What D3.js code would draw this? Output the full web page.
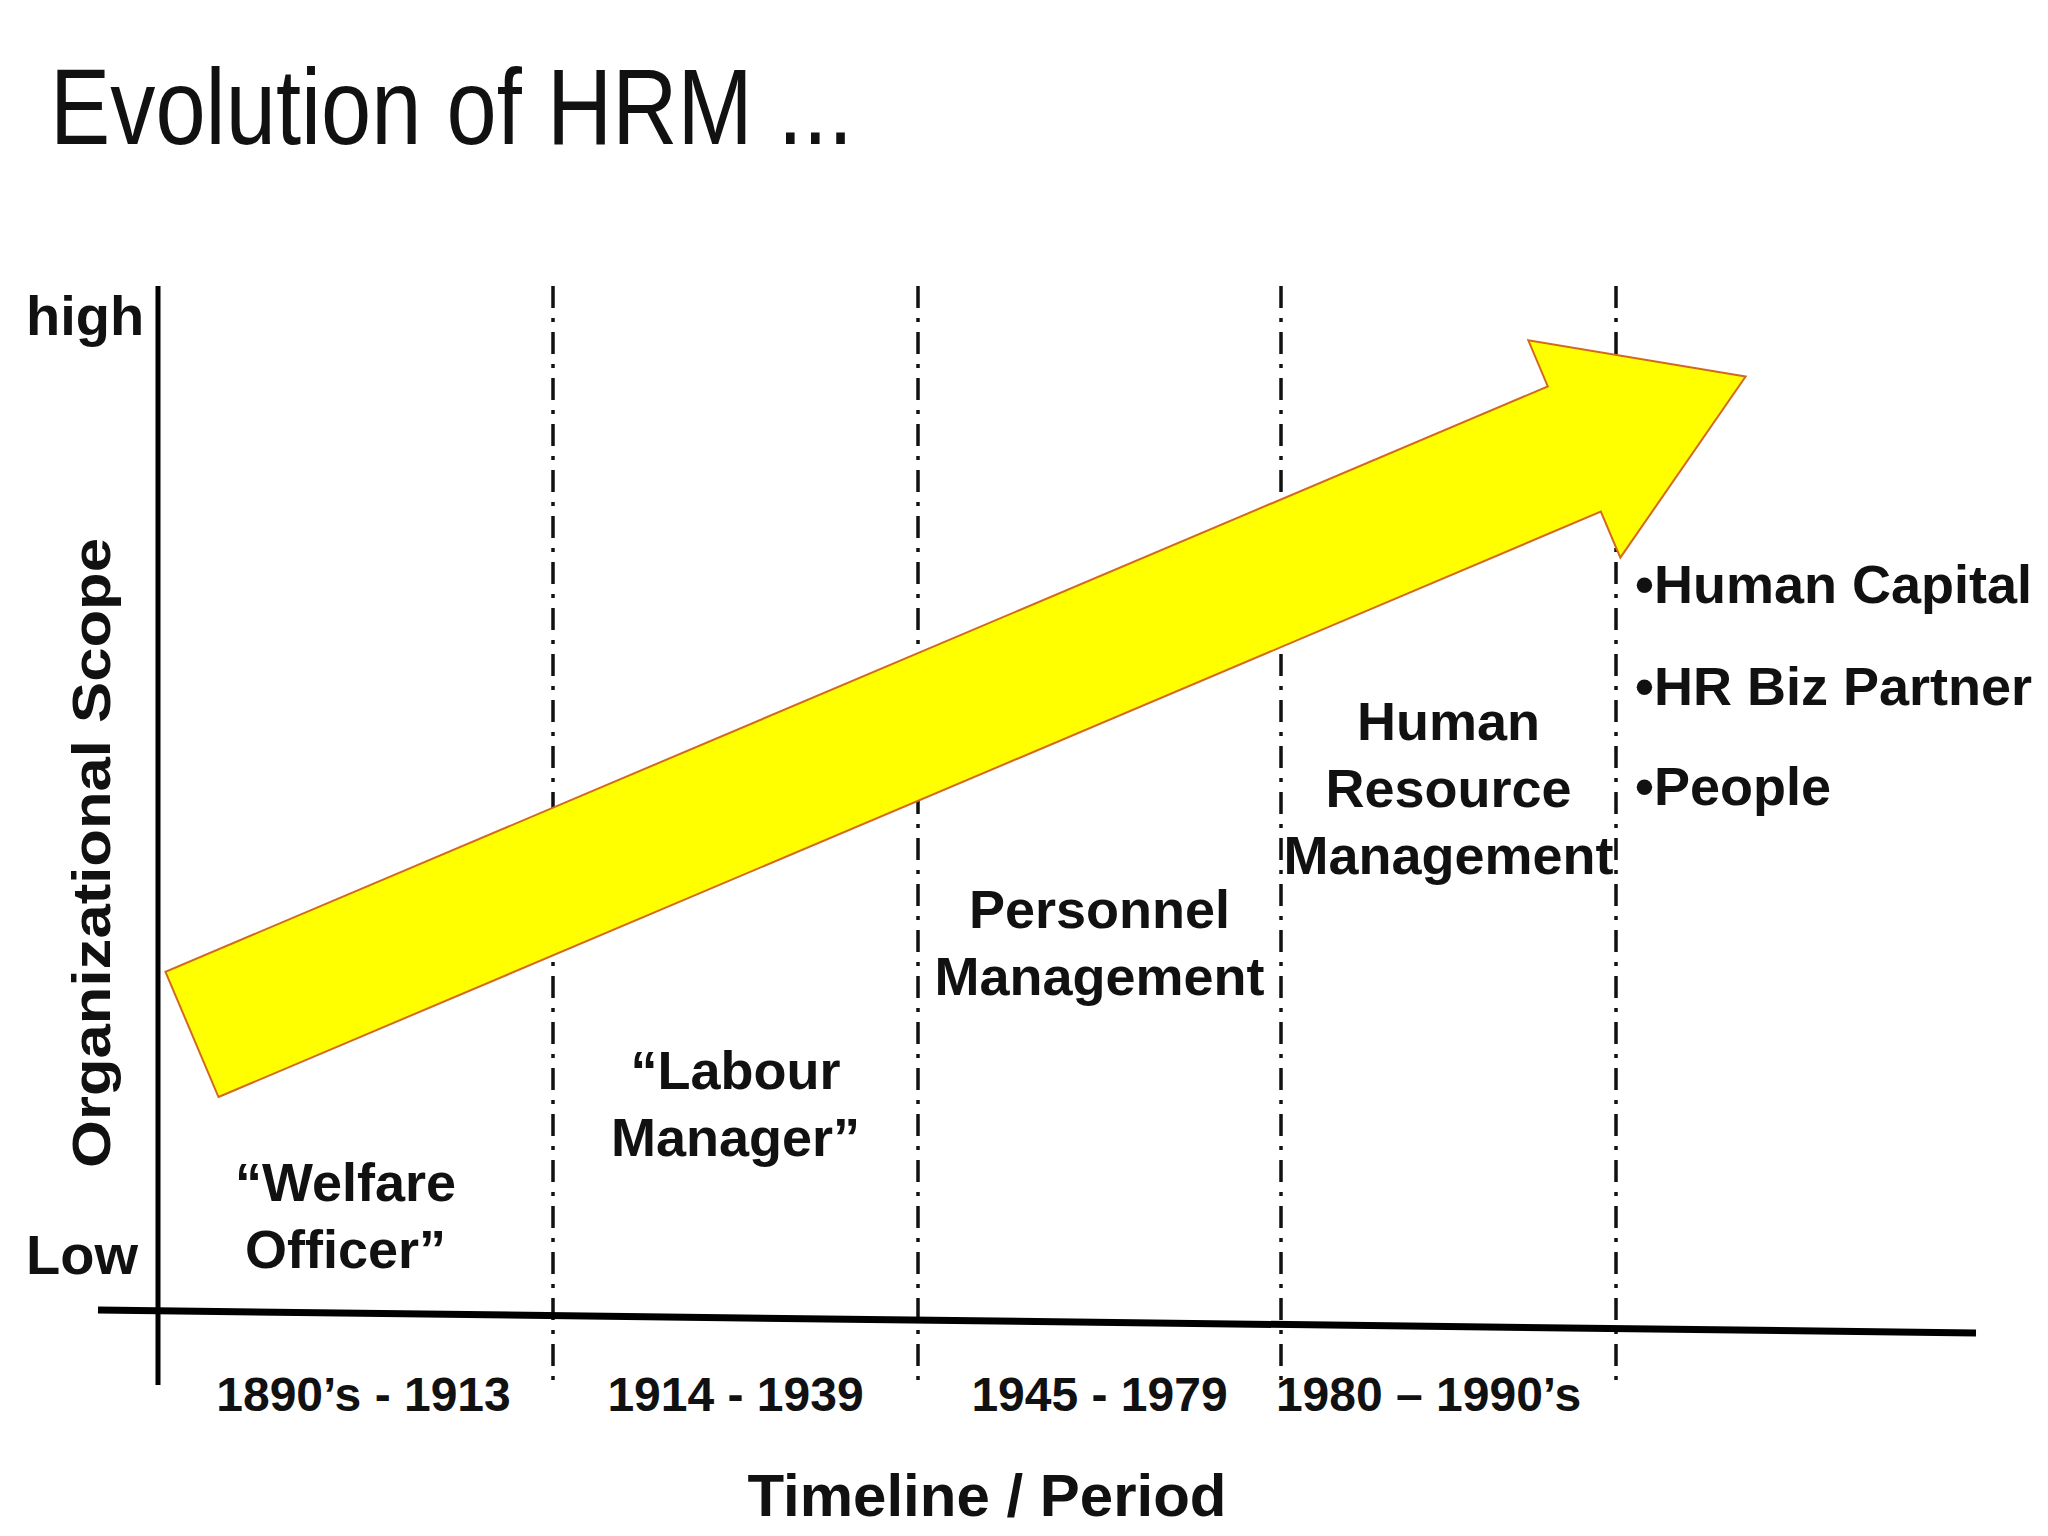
<!DOCTYPE html>
<html>
<head>
<meta charset="utf-8">
<script src="https://cdn.jsdelivr.net/npm/d3@7"></script>
<style>
  html, body { margin: 0; padding: 0; background: #fff; }
  svg text { font-family: "Liberation Sans Narrow", "Arial Narrow", "Liberation Sans", sans-serif; fill: #111; }
</style>
</head>
<body>
<svg id="chart" width="2048" height="1536"></svg>
<script>
// eras between the dash-dot dividers (x in "era index" units)
var eraLabels = [
  ['\u201cWelfare', 'Officer\u201d'],
  ['\u201cLabour', 'Manager\u201d'],
  ['Personnel', 'Management'],
  ['Human', 'Resource', 'Management']
];
// scope level (0 = low, 1 = high) of the top line of each era label
var eraScope = [0.117, 0.226, 0.384, 0.569];
var periods = ['1890\u2019s - 1913', '1914 - 1939', '1945 - 1979', '1980 \u2013 1990\u2019s'];
var dividers = [1, 2, 3, 4];
var futureItems = ['\u2022Human Capital', '\u2022HR Biz Partner', '\u2022People'];
var futureScope = [0.703, 0.603, 0.505];
// arrow: from (era, scope) to (era, scope)
var arrowFrom = [0.086, 0.28];
var arrowTo = [4.36, 0.925];

var svg = d3.select('#chart');

var x = d3.scaleLinear().domain([0, 1, 2, 3, 4, 5]).range([158, 553, 918, 1281, 1616, 1976]);
var y = d3.scaleLinear().domain([0, 1]).range([1320, 300]);

// title
svg.append('text')
  .attr('x', 50).attr('y', 144)
  .attr('textLength', 803).attr('lengthAdjust', 'spacingAndGlyphs')
  .style('font-size', '108px')
  .text('Evolution of HRM ...');

// dividers
svg.selectAll('line.divider').data(dividers).enter().append('line')
  .attr('class', 'divider')
  .attr('x1', function(d){ return x(d); }).attr('x2', function(d){ return x(d); })
  .attr('y1', 286).attr('y2', 1385)
  .attr('stroke', '#111').attr('stroke-width', 3.5)
  .style('stroke-dasharray', '22,10,4,10');

// axes
svg.append('line')
  .attr('x1', x(0)).attr('x2', x(0)).attr('y1', 286).attr('y2', 1385)
  .attr('stroke', '#000').attr('stroke-width', 5);
svg.append('line')
  .attr('x1', 98).attr('y1', 1310).attr('x2', x(5)).attr('y2', 1333)
  .attr('stroke', '#000').attr('stroke-width', 7);

svg.append('text').attr('x', 26).attr('y', 335)
  .style('font-size', '56px').style('font-weight', 'bold').text('high');
svg.append('text').attr('x', 26).attr('y', 1274)
  .style('font-size', '56px').style('font-weight', 'bold').text('Low');

svg.append('text')
  .attr('transform', 'translate(110,853) rotate(-90)')
  .attr('text-anchor', 'middle')
  .attr('textLength', 630).attr('lengthAdjust', 'spacingAndGlyphs')
  .style('font-family', '"Liberation Sans", Arial, sans-serif')
  .style('font-size', '54px').style('font-weight', 'bold')
  .text('Organizational Scope');

// arrow
(function(){
  var x0 = x(arrowFrom[0]), y0 = y(arrowFrom[1]);
  var x1 = x(arrowTo[0]), y1 = y(arrowTo[1]);
  var dx = x1 - x0, dy = y1 - y0, len = Math.sqrt(dx*dx + dy*dy);
  var ux = dx/len, uy = dy/len, nx = -uy, ny = ux;
  var shaft = 68, head = 118, headLen = 186;
  var bx = x1 - ux*headLen, by = y1 - uy*headLen;
  var pts = [
    [x0 + nx*shaft, y0 + ny*shaft],
    [bx + nx*shaft, by + ny*shaft],
    [bx + nx*head, by + ny*head],
    [x1, y1],
    [bx - nx*head, by - ny*head],
    [bx - nx*shaft, by - ny*shaft],
    [x0 - nx*shaft, y0 - ny*shaft]
  ];
  svg.append('path')
    .attr('d', d3.line()(pts) + 'Z')
    .attr('fill', '#ffff00').attr('stroke', '#d2691e').attr('stroke-width', 2);
})();

// era labels
eraLabels.forEach(function(lines, i){
  var t = svg.append('text')
    .attr('text-anchor', 'middle')
    .style('font-size', '54px').style('font-weight', 'bold');
  lines.forEach(function(s, j){
    t.append('tspan').attr('x', x(i + 0.5) + (i === 0 ? -10 : 0))
      .attr('y', y(eraScope[i]) + j*67).text(s);
  });
});

futureItems.forEach(function(s, i){
  svg.append('text').attr('x', x(4) + 19).attr('y', y(futureScope[i]))
    .style('font-size', '54px').style('font-weight', 'bold').text(s);
});

svg.selectAll('text.period').data(periods).enter().append('text')
  .attr('class', 'period')
  .attr('x', function(d, i){ return x(i + 0.5) + (i === 0 ? 8 : (i === 3 ? -20 : 0)); })
  .attr('y', 1411)
  .attr('text-anchor', 'middle')
  .style('font-size', '48px').style('font-weight', 'bold')
  .text(function(d){ return d; });

svg.append('text').attr('x', 987).attr('y', 1516)
  .attr('text-anchor', 'middle')
  .style('font-size', '60px').style('font-weight', 'bold')
  .text('Timeline / Period');
</script>
</body>
</html>
